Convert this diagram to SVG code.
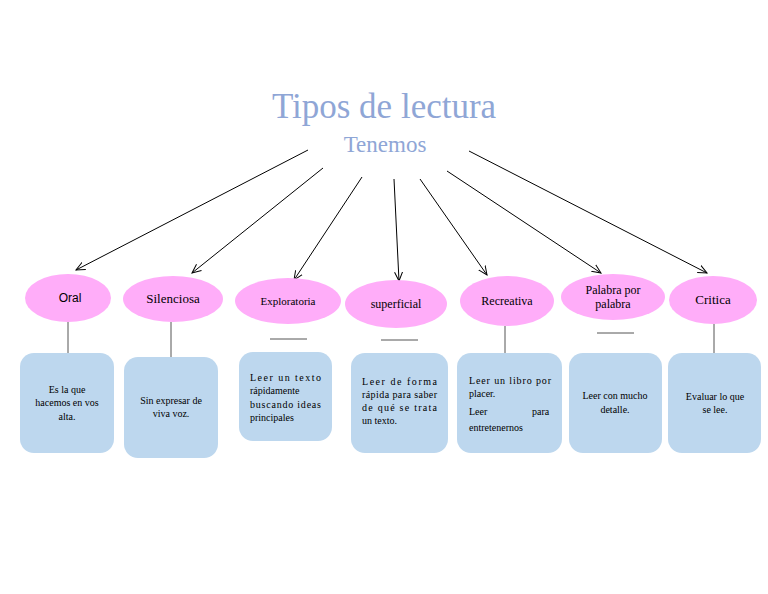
<svg xmlns="http://www.w3.org/2000/svg" width="768" height="594" viewBox="0 0 768 594">
<style>
.e{fill:#ffadf9}
.b{fill:#bdd7ee}
.c{stroke:#000;stroke-width:1;fill:none}
.g{stroke:#555;stroke-width:1;fill:none}
</style>
<defs><marker id="a" markerWidth="10" markerHeight="10" refX="9" refY="5" orient="auto" markerUnits="userSpaceOnUse"><path d="M0,1 L9,5 L0,9" fill="none" stroke="#000"/></marker></defs>
<rect width="768" height="594" fill="#fff"/>
<g id="title"><text x="384" y="118" font-family="Liberation Serif,serif" font-size="35" fill="#8fa6d6" text-anchor="middle">Tipos de lectura</text>
<text x="385" y="152" font-family="Liberation Serif,serif" font-size="23" fill="#8fa6d6" text-anchor="middle">Tenemos</text></g>
<g id="connectors">
<line class="c" x1="308" y1="150" x2="76" y2="270" marker-end="url(#a)"/>
<line class="c" x1="323" y1="168" x2="192" y2="273" marker-end="url(#a)"/>
<line class="c" x1="362" y1="177" x2="294" y2="280" marker-end="url(#a)"/>
<line class="c" x1="394" y1="179" x2="399" y2="281" marker-end="url(#a)"/>
<line class="c" x1="420" y1="179" x2="487" y2="275" marker-end="url(#a)"/>
<line class="c" x1="447" y1="171" x2="601" y2="273" marker-end="url(#a)"/>
<line class="c" x1="469" y1="151" x2="707" y2="273" marker-end="url(#a)"/>
<line class="g" x1="68" y1="322" x2="68" y2="353"/>
<line class="g" x1="171" y1="322" x2="171" y2="357"/>
<line class="g" x1="505" y1="326" x2="505" y2="353"/>
<line class="g" x1="714" y1="324" x2="714" y2="353"/>
<line class="g" x1="270" y1="339" x2="307" y2="339"/>
<line class="g" x1="381" y1="340" x2="418" y2="340"/>
<line class="g" x1="597" y1="333" x2="634" y2="333"/>
</g>
<g font-family="Liberation Serif,serif" fill="#000">
<g id="oral"><ellipse class="e" cx="68" cy="298" rx="43" ry="24"/><text x="70" y="302" font-family="Liberation Sans,sans-serif" font-size="12" text-anchor="middle">Oral</text>
<rect class="b" x="20" y="353" width="94" height="100" rx="14"/><text font-size="10" text-anchor="middle"><tspan x="67" y="393">Es la que</tspan><tspan x="67" y="406">hacemos en vos</tspan><tspan x="67" y="420">alta.</tspan></text></g>
<g id="silenciosa"><ellipse class="e" cx="173" cy="299" rx="50" ry="23"/><text x="173" y="303" font-size="13" text-anchor="middle">Silenciosa</text>
<rect class="b" x="124" y="357" width="94" height="101" rx="14"/><text font-size="10" text-anchor="middle"><tspan x="171" y="404">Sin expresar de</tspan><tspan x="171" y="417">viva voz.</tspan></text></g>
<g id="exploratoria"><ellipse class="e" cx="288" cy="301" rx="53" ry="23"/><text x="288" y="305" font-size="11" text-anchor="middle">Exploratoria</text>
<rect class="b" x="239" y="352" width="93" height="89" rx="14"/><text font-size="10"><tspan x="250" y="381" textLength="71">Leer un texto</tspan><tspan x="250" y="394">rápidamente</tspan><tspan x="250" y="408" textLength="71">buscando ideas</tspan><tspan x="250" y="421">principales</tspan></text></g>
<g id="superficial"><ellipse class="e" cx="396" cy="304" rx="51" ry="24"/><text x="396" y="308" font-size="12" text-anchor="middle">superficial</text>
<rect class="b" x="351" y="353" width="97" height="100" rx="14"/><text font-size="10"><tspan x="362" y="385" textLength="75">Leer de forma</tspan><tspan x="362" y="398" textLength="75">rápida para saber</tspan><tspan x="362" y="411" textLength="75">de qué se trata</tspan><tspan x="362" y="424">un texto.</tspan></text></g>
<g id="recreativa"><ellipse class="e" cx="507" cy="301" rx="47" ry="25"/><text x="507" y="305" font-size="12" text-anchor="middle">Recreativa</text>
<rect class="b" x="457" y="353" width="105" height="100" rx="14"/><text font-size="10"><tspan x="469" y="384" textLength="82">Leer un libro por</tspan><tspan x="469" y="397">placer.</tspan><tspan x="469" y="415">Leer</tspan><tspan x="532" y="415">para</tspan><tspan x="469" y="431">entretenernos</tspan></text></g>
<g id="palabra"><ellipse class="e" cx="613" cy="297" rx="52" ry="23"/><text font-size="12" text-anchor="middle"><tspan x="613" y="294">Palabra por</tspan><tspan x="613" y="308">palabra</tspan></text>
<rect class="b" x="569" y="353" width="93" height="100" rx="14"/><text font-size="10" text-anchor="middle"><tspan x="615" y="399">Leer con mucho</tspan><tspan x="615" y="413">detalle.</tspan></text></g>
<g id="critica"><ellipse class="e" cx="713" cy="300" rx="44" ry="24"/><text x="713" y="304" font-size="13" text-anchor="middle">Critica</text>
<rect class="b" x="668" y="353" width="93" height="100" rx="14"/><text font-size="10" text-anchor="middle"><tspan x="715" y="400">Evaluar lo que</tspan><tspan x="715" y="413">se lee.</tspan></text></g>
</g>
</svg>
